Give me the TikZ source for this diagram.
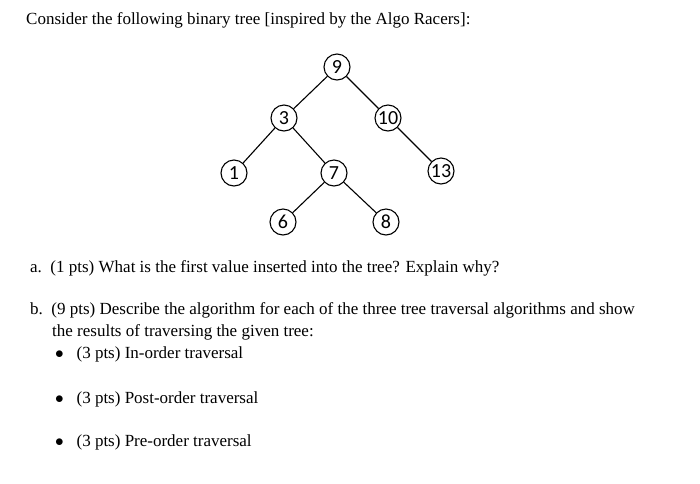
\documentclass[tikz,border=0pt]{standalone}
\usepackage{fontspec}
\setmainfont{Liberation Serif}
\newfontfamily\numfont{Carlito}
\begin{document}
\begin{tikzpicture}[x=1pt,y=-1pt,
  tn/.style={circle,draw,line width=1.1pt,minimum size=26pt,inner sep=0pt,font=\numfont\fontsize{20}{20}\selectfont},
  ed/.style={line width=1.1pt},
  tx/.style={anchor=west,inner sep=0pt,font=\fontsize{17}{20}\selectfont}]
\useasboundingbox (0,0) rectangle (700,483);
\node[tn] (n9) at (337,67) {9};
\node[tn] (n3) at (284,118) {3};
\node[tn] (n10) at (388,118) {10};
\node[tn] (n1) at (234,173) {1};
\node[tn] (n7) at (334,173) {7};
\node[tn] (n13) at (441,171) {13};
\node[tn] (n6) at (283,222) {6};
\node[tn] (n8) at (386,222) {8};
\draw[ed] (n9)--(n3); \draw[ed] (n9)--(n10);
\draw[ed] (n3)--(n1); \draw[ed] (n3)--(n7);
\draw[ed] (n10)--(n13);
\draw[ed] (n7)--(n6); \draw[ed] (n7)--(n8);
\node[tx] (t0) at (26,20) {Consider the following binary tree [inspired by the Algo Racers]:};
\node[tx] (ta) at (30,268) {a.\ \ (1 pts) What is the first value inserted into the tree? Explain why?};
\node[tx] (tb) at (30,310) {b.\ \ (9 pts) Describe the algorithm for each of the three tree traversal algorithms and show};
\node[tx] (tb2) at (52,332) {the results of traversing the given tree:};
\node[tx] (b1) at (55,354) {$\bullet$\ \ \ (3 pts) In-order traversal};
\node[tx] (b2) at (55,399) {$\bullet$\ \ \ (3 pts) Post-order traversal};
\node[tx] (b3) at (55,442) {$\bullet$\ \ \ (3 pts) Pre-order traversal};
\end{tikzpicture}
\end{document}
